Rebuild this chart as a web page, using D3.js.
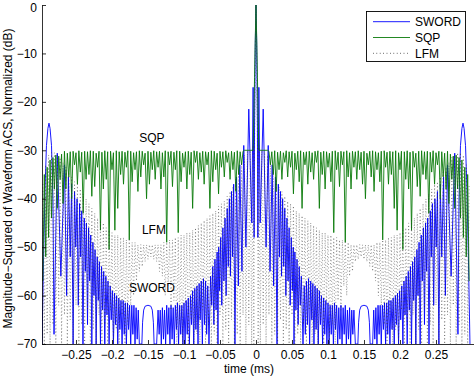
<!DOCTYPE html>
<html><head><meta charset="utf-8">
<script src="https://cdn.jsdelivr.net/npm/d3@7"></script>
<style>body{margin:0;background:#fff}svg{display:block}text{font-family:"Liberation Sans",Arial,Helvetica,sans-serif}</style>
</head><body><svg id="c" width="474" height="376"></svg>
<script>
// ---- axis ticks ----
const xTicks = [-0.25,-0.2,-0.15,-0.1,-0.05,0,0.05,0.1,0.15,0.2,0.25];
const xTickLabels = ["\u22120.25","\u22120.2","\u22120.15","\u22120.1","\u22120.05","0","0.05","0.1","0.15","0.2","0.25"];
const yTicks = [0,-10,-20,-30,-40,-50,-60,-70];
const yTickLabels = ["0","\u221210","\u221220","\u221230","\u221240","\u221250","\u221260","\u221270"];
const seriesNames = ["SWORD","SQP","LFM"];

// ---- SWORD (half, t >= 0; ACS is symmetric) ----
const swordT = [0,0.001,0.002,0.0026,0.004,0.0058,0.010,0.014,0.017,0.0195,0.0225,0.0245,0.027,0.0292,0.031,0.0325,0.034,0.0355,0.037,0.0385,
0.040,0.0415,0.043,0.0445,0.046,0.0475,0.049,0.0505,0.0518,0.0528,0.054,0.0555,0.057,0.0585,0.060,0.0615,0.063,0.0653,0.067,0.0685,
0.070,0.0715,0.073,0.0745,0.076,0.0775,0.079,0.0805,0.082,0.0835,0.085,0.0865,0.088,0.0895,0.091,0.0925,0.094,0.0955,0.097,0.0985,
0.100,0.1015,0.103,0.1045,0.106,0.1075,0.109,0.1105,0.112,0.1135,0.115,0.1165,0.118,0.1195,0.121,0.1225,0.124,0.1255,0.127,0.1285,
0.130,0.1315,0.133,0.1345,0.136,0.138,0.1415,0.1425,0.144,0.146,0.150,0.154,0.156,0.1575,0.1585,0.162,0.1635,0.165,0.1665,0.168,
0.1695,0.171,0.1725,0.174,0.1755,0.177,0.1785,0.180,0.1815,0.183,0.1845,0.186,0.1875,0.189,0.1905,0.192,0.1935,0.195,0.1965,0.198,
0.1995,0.201,0.2025,0.204,0.2055,0.207,0.2085,0.210,0.2115,0.213,0.2145,0.216,0.2175,0.219,0.2205,0.222,0.2235,0.225,0.2265,0.228,
0.2295,0.231,0.2325,0.234,0.2355,0.237,0.2385,0.2403,0.242,0.2435,0.245,0.2468,0.2485,0.2503,0.252,0.254,0.256,0.258,0.2605,0.263,
0.266,0.271,0.276,0.2805,0.282,0.284,0.286,0.2875,0.289,0.291,0.293,0.295,0.2972];
const swordV = [0,-8,-25,-48,-17,-45,-21.5,-50,-29,-55,-33,-58,-35.5,-70,-37,-52,-38.5,-56,-40,-54,
-42,-60,-44,-57,-46,-62,-48,-59,-50,-70,-51,-63,-52.5,-66,-54,-62,-56,-70,-58,-68,
-57,-66,-56.5,-70,-57,-65,-57.5,-70,-58,-67,-58.5,-70,-59,-66,-60,-70,-60.5,-68,-61,-70,
-61.5,-70,-62,-68,-62,-70,-61.5,-67,-62,-70,-62.5,-69,-62,-70,-62.5,-68,-62,-70,-63,-69,
-62.5,-70,-63,-68,-63,-70,-70,-65.5,-63,-62.2,-62,-62.2,-63,-65.5,-70,-70,-63,-69,-62.5,-70,
-62,-68,-62,-70,-62,-67,-61.5,-70,-61.5,-68,-61,-70,-61,-67,-60.5,-70,-60,-66,-59.5,-70,
-59,-65,-58,-70,-57,-64,-56,-70,-55,-63,-54,-70,-53,-61,-52,-70,-50.5,-60,-49,-70,
-47.5,-57,-46,-66,-45,-55,-44,-70,-42.5,-52,-41,-62,-40,-50,-38.5,-70,-37,-52,-35.5,-60,
-33,-56,-30.6,-68,-40,-29,-25.5,-24.4,-25.5,-29,-38,-52,-70];

// ---- SQP (half) ----
const sqpCoreT = [0,0.001,0.002,0.003,0.004,0.016];
const sqpCoreV = [0,-7,-15,-23,-30,-30];
const sqpGridStart = 0.018, sqpGridStep = 0.002;
const sqpGridV = [
-30.2,-33,-30.3,-35,-30.1,-38.5,-30.4,-34,-30.2,-36,
-30.5,-32.5,-30.1,-35.5,-30.3,-33.5,-30.2,-39,-30.6,-34,
-30.2,-36.5,-30.1,-42,-30.4,-33,-30.3,-37,-30.2,-34.5,
-30.5,-36,-30.2,-32.5,-30.1,-42,-30.4,-35,-30.2,-38,
-30.3,-33.5,-30.6,-36.5,-30.2,-47,-30.1,-34,-30.4,-37.5,
-30.2,-33,-30.3,-49,-30.1,-35.5,-30.5,-38,-30.2,-33.5,
-30.3,-36,-30.1,-34,-30.4,-37,-30.2,-40,-30.6,-33,
-30.2,-35.5,-30.1,-38.5,-30.3,-34,-30.5,-36.5,-30.2,-48.5,
-30.1,-33.5,-30.4,-37,-30.2,-35,-30.3,-42,-30.1,-46.5,
-30.5,-34,-30.2,-50.5,-30.3,-36,-30.1,-38,-30.4,-46.5,
-30.2,-33.5,-30.6,-37.5,-30.2,-39.5,-30.1,-35,-30.3,-36,
-30.2,-43,-30.4,-34.5,-30.1,-37,-30.5,-33,-30.2,-40,
-30.3,-35.5,-30.6,-38,-30.2,-41,-30.8,-36,-31.2,-42,
-31,-38,-31.5,-44,-32,-48,-33.5,-52,-35,-57];

// ---- LFM (half) ----
const lfmCoreT = [0,0.001,0.002,0.003];
const lfmCoreV = [0,-10,-30,-70];
const lfmGridStart = 0.004, lfmGridStep = 0.002;
const lfmGridV = [
-29,-70,-30,-66,-30,-70,-31,-64,-32.5,-70,
-34.5,-68,-36,-70,-37.5,-65,-38.5,-70,-39.5,-67,
-40.5,-70,-41,-64,-41.5,-70,-42.5,-68,-43,-70,
-43.5,-66,-44,-70,-44.5,-63,-45,-70,-45.5,-68,
-46,-70,-46.5,-65,-47,-70,-47,-62,-47.5,-70,
-47.5,-66,-48,-70,-48,-61,-48.5,-63,-48.5,-58,
-49,-60,-49,-56,-49.5,-55,-49.5,-53,-49.5,-52.5,
-49.5,-52,-49.5,-52.5,-49.5,-53,-49.5,-54,-49.5,-55,
-49.5,-57,-49,-60,-49,-62,-48.5,-66,-48.5,-70,
-48,-64,-48,-70,-47.5,-67,-47.5,-70,-47,-63,
-46.5,-70,-46,-66,-45,-70,-44.5,-64,-44,-70,
-43,-67,-42,-70,-41,-63,-40,-70,-39,-66,
-38,-70,-37,-62,-36.5,-70,-35.5,-65,-34.5,-70,
-33.5,-64,-32.5,-70,-31.5,-62,-31,-70,-30.5,-66,
-30.5,-70,-31,-68,-33,-70,-37];

// ---- assemble (mirror the symmetric half) ----
function mirror(ts, vs){
  const half = ts.map((t,i)=>[t, vs[i]]);
  const neg = half.filter(d=>d[0]>0).map(d=>[-d[0], d[1]]).reverse();
  return neg.concat(half);
}
const sqpT = sqpCoreT.concat(sqpGridV.map((v,i)=>+(sqpGridStart + i*sqpGridStep).toFixed(4)));
const sqpV = sqpCoreV.concat(sqpGridV);
const lfmT = lfmCoreT.concat(lfmGridV.map((v,i)=>+(lfmGridStart + i*lfmGridStep).toFixed(4)));
const lfmV = lfmCoreV.concat(lfmGridV);

const sword = mirror(swordT, swordV);
const sqp = mirror(sqpT, sqpV);
const lfm = mirror(lfmT, lfmV);

// ---- drawing ----
const svg = d3.select("#c");
const L = 42, R = 472, T = 5, B = 344;
const x = d3.scaleLinear().domain([-0.2972, 0.3]).range([L, R]);
const y = d3.scaleLinear().domain([-70, 0]).range([B, T]);

svg.append("defs").append("clipPath").attr("id","clip")
  .append("rect").attr("x",L).attr("y",0).attr("width",474-L).attr("height",B);

const line = d3.line().x(d=>x(d[0])).y(d=>y(d[1]));
const g = svg.append("g").attr("clip-path","url(#clip)");
g.append("path").datum(sword).attr("d",line).attr("fill","none").attr("stroke","#0000ff").attr("stroke-width",0.9);
g.append("path").datum(sqp).attr("d",line).attr("fill","none").attr("stroke","#0a7a0a").attr("stroke-width",0.9);
g.append("path").datum(lfm).attr("d",line).attr("fill","none").attr("stroke","#333").attr("stroke-width",0.6).attr("stroke-dasharray","0.8,2.6");

// axes
const fs = 12;
const ax = svg.append("g").attr("transform",`translate(0,${B})`)
  .call(d3.axisBottom(x).tickValues(xTicks).tickFormat((d,i)=>xTickLabels[i]).tickSize(-4).tickSizeOuter(0).tickPadding(6));
const ay = svg.append("g").attr("transform",`translate(${L},0)`)
  .call(d3.axisLeft(y).tickValues(yTicks).tickFormat((d,i)=>yTickLabels[i]).tickSize(-4).tickSizeOuter(0).tickPadding(5));
[ax, ay].forEach(a=>{
  a.selectAll("text").attr("font-size",fs).attr("fill","#000").style("font-family",'"Liberation Sans",Arial,sans-serif');
  a.selectAll("line").attr("stroke","#000").attr("stroke-width",0.8);
  a.select(".domain").attr("stroke","#000").attr("stroke-width",0.8);
});
ax.select(".domain").attr("d",`M${L},0.5H474`);
// keep the top "0" label inside the picture
ay.selectAll(".tick").filter(d=>d===0).select("text").attr("dy","0.5em");

// axis labels
svg.append("text").attr("x",249).attr("y",373).attr("text-anchor","middle").attr("font-size",fs).text("time (ms)");
svg.append("text").attr("transform",`translate(12,${(T+B)/2+4}) rotate(-90)`).attr("text-anchor","middle")
  .attr("font-size",fs).text("Magnitude\u2212Squared of Waveform ACS, Normalized (dB)");

// annotations
const annT = [-0.1446,-0.1446,-0.1446];
const annV = [-28.2,-47.2,-59.3];
const annText = ["SQP","LFM","SWORD"];
annText.forEach((s,i)=>{
  svg.append("text").attr("x",x(annT[i])+(i===1?2:0)).attr("y",y(annV[i])).attr("text-anchor","middle")
    .attr("font-size",fs).text(s);
});

// legend
const lg = svg.append("g");
lg.append("rect").attr("x",366.5).attr("y",11.5).attr("width",99).attr("height",50).attr("fill","#fff").attr("stroke","#000").attr("stroke-width",0.9);
const lgStroke = ["#0000ff","#0a7a0a","#333"];
const lgDash = [null,null,"0.8,2.6"];
seriesNames.forEach((s,i)=>{
  const yy = 21.7 + i*15.8;
  lg.append("line").attr("x1",373).attr("x2",410).attr("y1",yy).attr("y2",yy)
    .attr("stroke",lgStroke[i]).attr("stroke-width",0.9).attr("stroke-dasharray",lgDash[i]);
  lg.append("text").attr("x",415).attr("y",yy+4.3).attr("font-size",fs).text(s);
});
</script></body></html>
